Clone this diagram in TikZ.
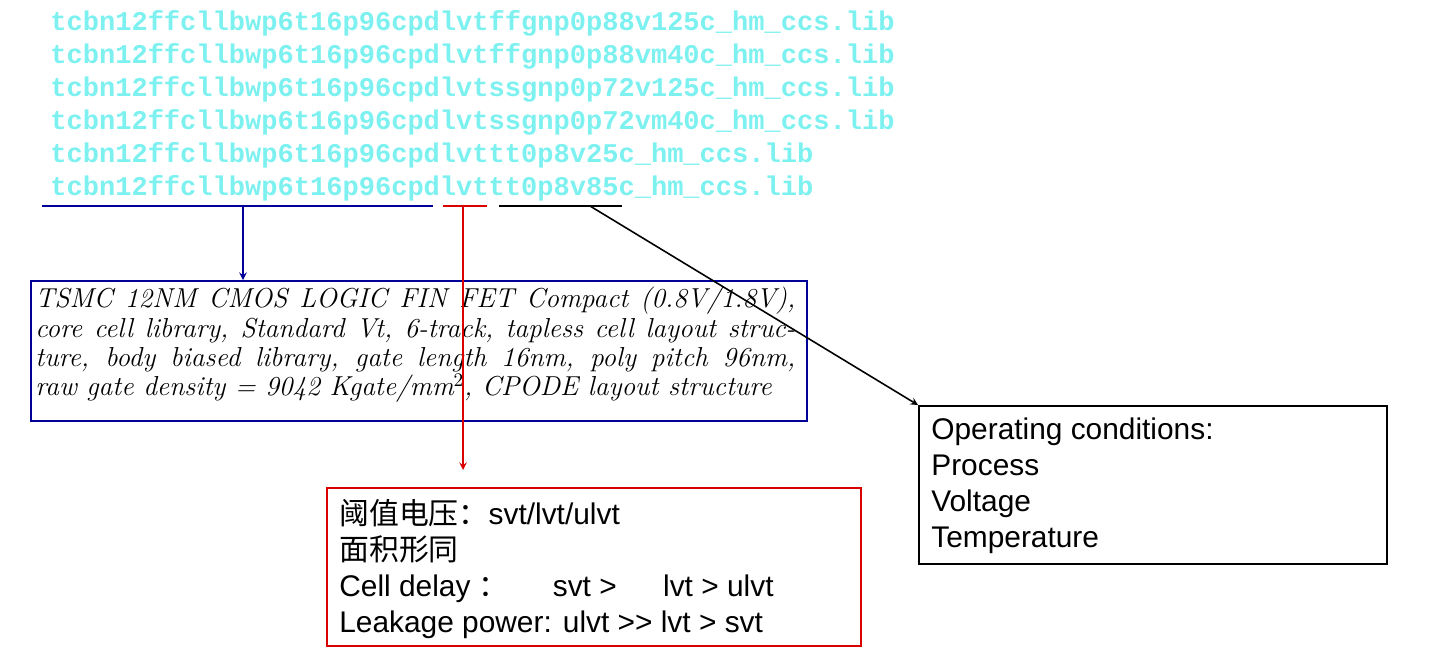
\documentclass[tikz,border=0pt]{standalone}
\usepackage{fontspec}
\newfontfamily\monof{Liberation Mono}
\newfontfamily\sansf{Liberation Sans}
\newfontfamily\cjk{Noto Sans CJK SC}
\definecolor{libc}{RGB}{125,240,240}
\begin{document}
\begin{tikzpicture}[x=0.02cm,y=-0.02cm,
  lib/.style={anchor=base west,inner sep=0,font=\monof\fontsize{15.4}{18}\selectfont\bfseries,text=libc},
  arr/.style={-stealth,line width=0.9pt},
  box/.style={draw,line width=1pt,anchor=north west,inner sep=0}]
\useasboundingbox (0,0) rectangle (1447,660);
\node[lib] (l1) at (50,30) {tcbn12ffcllbwp6t16p96cpdlvtffgnp0p88v125c\_hm\_ccs.lib};
\node[lib] (l2) at (50,63) {tcbn12ffcllbwp6t16p96cpdlvtffgnp0p88vm40c\_hm\_ccs.lib};
\node[lib] (l3) at (50,96) {tcbn12ffcllbwp6t16p96cpdlvtssgnp0p72v125c\_hm\_ccs.lib};
\node[lib] (l4) at (50,129) {tcbn12ffcllbwp6t16p96cpdlvtssgnp0p72vm40c\_hm\_ccs.lib};
\node[lib] (l5) at (50,162) {tcbn12ffcllbwp6t16p96cpdlvttt0p8v25c\_hm\_ccs.lib};
\node[lib] (l6) at (50,195) {tcbn12ffcllbwp6t16p96cpdlvttt0p8v85c\_hm\_ccs.lib};
\draw[blue!60!black,line width=1pt] (42,206) coordinate (ba) -- (433,206);
\draw[red!85!black,line width=1pt] (443,206) -- (487,206);
\draw[black,line width=1pt] (499,206) -- (622,206);
\coordinate (bs) at (243,206);
\coordinate (rs) at (463,206);
\coordinate (ks) at (590,206);
\node[box,draw=blue!60!black,minimum width=776*0.02cm,minimum height=140*0.02cm] (tsmc) at (30,280) {};
\node[anchor=north west,inner sep=0,text width=760*0.02cm,align=justify,font=\itshape\fontsize{15.6}{16.6}\selectfont] (tt) at (35,287)
{TSMC 12NM CMOS LOGIC FIN FET Compact (0.8V/1.8V),\linebreak core cell library, Standard Vt, 6-track, tapless cell layout struc-\linebreak ture, body biased library, gate length 16nm, poly pitch 96nm,\linebreak raw gate density = 9042 Kgate/mm$^2$, CPODE layout structure};
\node[box,draw=red!85!black,minimum width=534*0.02cm,minimum height=158*0.02cm] (vt) at (326,487) {};
\node[anchor=north west,inner sep=0,align=left,font=\sansf\fontsize{17}{20.5}\selectfont] (vtt) at (339,499)
{{\cjk 阈值电压：}svt/lvt/ulvt\\{\cjk 面积形同}\\Cell delay {\cjk ：}\hspace{1.2em} svt > \hspace{1em} lvt > ulvt\\Leakage power: ulvt >> lvt > svt};
\node[box,minimum width=468*0.02cm,minimum height=158*0.02cm] (oc) at (918,405) {};
\node[anchor=north west,inner sep=0,align=left,font=\sansf\fontsize{17}{20.5}\selectfont] (oct) at (931,417)
{Operating conditions:\\Process\\Voltage\\Temperature};
\draw[arr,blue!60!black] (bs) -- (tsmc.north -| bs);
\draw[arr,red!85!black] (rs) -- (463,470);
\draw[arr] (ks) -- (oc.north west);
\end{tikzpicture}
\end{document}
